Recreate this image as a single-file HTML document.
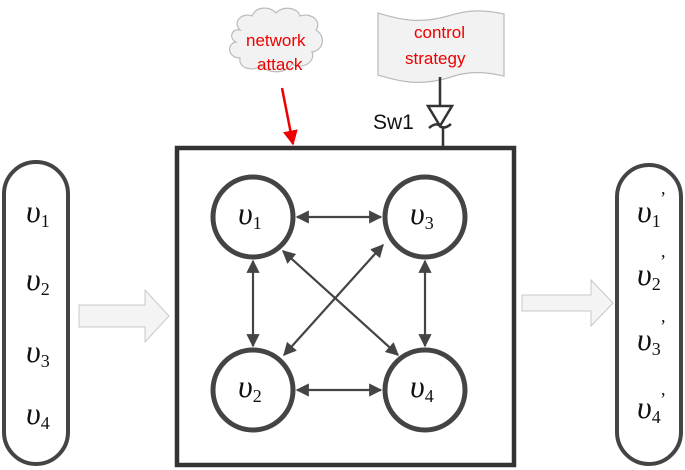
<!DOCTYPE html>
<html><head><meta charset="utf-8"><style>
html,body{margin:0;padding:0;background:#fff;}
svg{display:block;}
.v{font-family:"Liberation Serif",serif;font-style:italic;font-size:32px;fill:#111;}
.s{font-family:"Liberation Serif",serif;font-style:normal;font-size:18px;fill:#111;}
.r{font-family:"Liberation Sans",sans-serif;font-size:17px;fill:#e00;}
</style></head><body>
<svg width="685" height="470" viewBox="0 0 685 470" xmlns="http://www.w3.org/2000/svg">
<defs>
<marker id="a" viewBox="0 0 10 10" refX="9" refY="5" markerWidth="6" markerHeight="6" orient="auto-start-reverse"><path d="M0,0 L10,5 L0,10 z" fill="#444"/></marker>
<marker id="ra" viewBox="0 0 10 10" refX="9" refY="5" markerWidth="6" markerHeight="6" orient="auto"><path d="M0,0 L10,5 L0,10 z" fill="#e00"/></marker>
</defs>
<!-- left capsule -->
<rect x="4" y="162" width="64" height="302" rx="32" fill="#fff" stroke="#444" stroke-width="4"/>
<text class="v" x="26" y="222">υ<tspan class="s" dy="5">1</tspan></text>
<text class="v" x="26" y="290">υ<tspan class="s" dy="5">2</tspan></text>
<text class="v" x="26" y="362">υ<tspan class="s" dy="5">3</tspan></text>
<text class="v" x="26" y="424">υ<tspan class="s" dy="5">4</tspan></text>
<!-- right capsule -->
<rect x="617" y="165" width="64" height="299" rx="32" fill="#fff" stroke="#444" stroke-width="4"/>
<text class="v" x="637" y="222">υ<tspan class="s" dy="5">1</tspan></text><text class="s" x="661" y="194">,</text>
<text class="v" x="637" y="285">υ<tspan class="s" dy="5">2</tspan></text><text class="s" x="661" y="257">,</text>
<text class="v" x="637" y="350">υ<tspan class="s" dy="5">3</tspan></text><text class="s" x="661" y="322">,</text>
<text class="v" x="637" y="418">υ<tspan class="s" dy="5">4</tspan></text><text class="s" x="661" y="395">,</text>
<!-- hollow arrows -->
<path d="M79,305 H145 V290 L169,316 L145,342 V327 H79 z" fill="#f4f4f4" stroke="#c8c8c8" stroke-width="1"/>
<path d="M522,295 H591 V280 L613,303 L591,326 V311 H522 z" fill="#f4f4f4" stroke="#c8c8c8" stroke-width="1"/>
<!-- main box -->
<rect x="177" y="148" width="337" height="317" fill="none" stroke="#333" stroke-width="4.5"/>
<!-- edges -->
<g stroke="#444" stroke-width="2.2" fill="none" marker-start="url(#a)" marker-end="url(#a)">
<line x1="297" y1="217" x2="381" y2="217"/>
<line x1="297" y1="390" x2="381" y2="390"/>
<line x1="253" y1="261" x2="253" y2="346"/>
<line x1="425" y1="261" x2="425" y2="346"/>
<line x1="283" y1="251" x2="398" y2="355"/>
<line x1="383" y1="245" x2="284" y2="355"/>
</g>
<!-- circles -->
<g fill="#fff" stroke="#444" stroke-width="5">
<circle cx="253" cy="217" r="40"/><circle cx="425" cy="217" r="40"/>
<circle cx="253" cy="390" r="40"/><circle cx="425" cy="390" r="40"/>
</g>
<text class="v" x="238" y="224">υ<tspan class="s" dy="5">1</tspan></text>
<text class="v" x="410" y="224">υ<tspan class="s" dy="5">3</tspan></text>
<text class="v" x="238" y="397">υ<tspan class="s" dy="5">2</tspan></text>
<text class="v" x="410" y="397">υ<tspan class="s" dy="5">4</tspan></text>
<!-- cloud -->
<path d="M240,30 C232,22 242,12 252,16 C256,6 270,6 276,13 C284,5 298,8 300,16 C312,12 322,22 316,30 C326,36 324,50 312,52 C316,62 302,70 292,64 C286,74 268,74 262,66 C252,72 238,68 240,58 C228,58 226,44 236,42 C228,38 232,28 240,30 z" fill="#f2f2f2" stroke="#bbb" stroke-width="1.2"/>
<text class="r" x="246" y="46">network</text>
<text class="r" x="257" y="70">attack</text>
<line x1="282" y1="88" x2="293" y2="144" stroke="#e00" stroke-width="2.5" marker-end="url(#ra)"/>
<!-- flag -->
<path d="M378,13 C400,20 420,24 448,16 C470,9 485,10 504,14 L504,76 C485,72 470,70 448,78 C420,86 400,82 378,75 z" fill="#f2f2f2" stroke="#bbb" stroke-width="1.2"/>
<text class="r" x="414" y="38">control</text>
<text class="r" x="405" y="64">strategy</text>
<!-- switch -->
<line x1="440" y1="77" x2="440" y2="106" stroke="#333" stroke-width="2.5"/>
<path d="M428,106 H452 L440,126 z" fill="none" stroke="#333" stroke-width="2.5"/>
<path d="M429,128 Q436,122 440,126 Q444,130 451,124" fill="none" stroke="#333" stroke-width="2.5"/>
<line x1="443" y1="126" x2="443" y2="148" stroke="#333" stroke-width="2.5"/>
<text x="373" y="129" font-family="Liberation Sans,sans-serif" font-size="21" fill="#111">Sw1</text>
</svg>
</body></html>
